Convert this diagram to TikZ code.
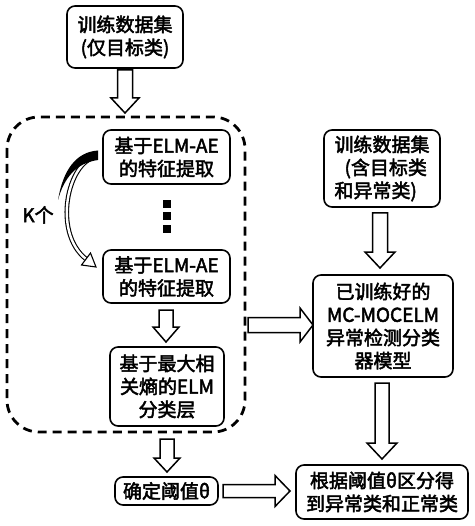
\documentclass[tikz,border=0pt]{standalone}
\usepackage{fontspec}
\setmainfont{Noto Sans CJK SC}[AutoFakeBold=2.5]
\usetikzlibrary{calc}
\newcommand\dnarrow[6]{% cx, ytop, ytip, shaft half, head half, head len
  \draw[barrow] ({#1-#4},#2) -- ({#1+#4},#2) -- ({#1+#4},{#3-#6}) -- ({#1+#5},{#3-#6}) -- (#1,#3)
    -- ({#1-#5},{#3-#6}) -- ({#1-#4},{#3-#6}) -- cycle;}
\newcommand\rtarrow[6]{% cy, xstart, xtip, shaft half, head half, head len
  \draw[barrow] (#2,{#1-#4}) -- (#2,{#1+#4}) -- ({#3-#6},{#1+#4}) -- ({#3-#6},{#1+#5}) -- (#3,#1)
    -- ({#3-#6},{#1-#5}) -- ({#3-#6},{#1-#4}) -- cycle;}
\begin{document}
\begin{tikzpicture}[x=1pt,y=-1pt,
  every node/.style={font=\fontsize{19pt}{23pt}\selectfont\bfseries},
  box/.style={draw, rounded corners=8pt, line width=1.6pt, align=center, inner sep=0pt},
  barrow/.style={draw, line width=1.5pt, fill=white, line join=miter},
  dots/.style={fill=black}]
\useasboundingbox (0,0) rectangle (474,526);

% dashed group
\draw[line width=2.8pt, dash pattern=on 9pt off 6pt, rounded corners=32pt] (7,117) rectangle (245,432);

\node[box, minimum width=116pt, minimum height=62pt] (A) at (125,37) {训练数据集\\(仅目标类)};
\node[box, minimum width=127pt, minimum height=54pt] (B1) at (166.5,157) {基于ELM-AE\\的特征提取};
\node[box, minimum width=127pt, minimum height=53pt] (B2) at (166.5,276.5) {基于ELM-AE\\的特征提取};
\node[box, minimum width=114pt, minimum height=79pt] (C) at (167,386.5) {基于最大相\\关熵的ELM\\分类层};
\node[box, minimum width=103pt, minimum height=28pt] (D) at (166.5,491) {确定阈值θ};
\node[box, minimum width=116pt, minimum height=77pt, align=left] (E) at (382,168.5) {训练数据集\\\hspace*{10pt}(含目标类\\和异常类)};
\node[box, minimum width=140pt, minimum height=102pt] (F) at (383,326) {已训练好的\\MC-MOCELM\\异常检测分类\\器模型};
\node[box, minimum width=172pt, minimum height=54pt] (G) at (382,492) {根据阈值θ区分得\\到异常类和正常类};

% dots
\fill[dots] (163,200) rectangle (171,208);
\fill[dots] (163,212.5) rectangle (171,220.5);
\fill[dots] (163,225) rectangle (171,233);

% block arrows
\dnarrow{125}{70}{113}{7.5}{14}{15}
\dnarrow{166}{310}{342}{7}{13}{15}
\dnarrow{167}{439}{472}{7}{13}{14}
\dnarrow{380}{213}{268}{7.5}{15}{16}
\dnarrow{382}{383}{459}{7}{15}{16}
\rtarrow{325}{248}{313}{7.5}{17}{13}
\rtarrow{491}{223}{290}{6.5}{15.5}{15}

% curved K arrow
\coordinate (k0) at ($(B1.west)+(-6,0)$);
\coordinate (k3) at (86,259);
\draw[line width=1.1pt, double=white, double distance=2.4pt] (k0) .. controls (68,161) and (52,232) .. (k3);
\fill[black] (98,150.5) .. controls (76,152) and (63,170) .. (58,200) .. controls (64,178) and (76,163) .. (98,160) -- cycle;
\draw[barrow, line width=1.1pt] (81.5,265) -- (96,267) -- (90.5,253) -- cycle;
\node (K) at (38,215) {K个};
\end{tikzpicture}
\end{document}
